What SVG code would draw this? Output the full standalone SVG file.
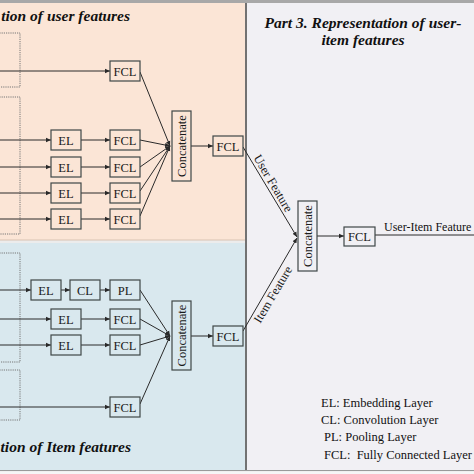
<svg xmlns="http://www.w3.org/2000/svg" width="474" height="474" viewBox="0 0 474 474">
<defs>
<marker id="ah" markerWidth="6" markerHeight="6" refX="5" refY="3" orient="auto" markerUnits="userSpaceOnUse">
<path d="M0,0.8 L5,3 L0,5.2 Z" fill="#2a2a2a"/>
</marker>
<style>
.box{stroke:#3f4747;stroke-width:1.2}
.u{fill:#fbe5d6}
.i{fill:#d9e8ee}
.r{fill:#f1f0f4}
.lbl{font-family:"Liberation Serif","Times New Roman",serif;font-size:12.5px;fill:#1a1a1a;text-anchor:middle}
.ttl{font-family:"Liberation Serif","Times New Roman",serif;font-size:15.5px;font-weight:bold;font-style:italic;fill:#111}
.leg{font-family:"Liberation Serif","Times New Roman",serif;font-size:12.5px;fill:#111}
.ln{stroke:#2a2a2a;stroke-width:1;fill:none}
.arr{stroke:#2a2a2a;stroke-width:1;fill:none;marker-end:url(#ah)}
.dot{stroke:#777;stroke-width:1;fill:none;stroke-dasharray:1.2 1}
</style>
</defs>
<rect x="0" y="0" width="474" height="474" fill="#ececec"/>
<rect x="0" y="0" width="474" height="3" fill="#a8a8a8"/>
<rect x="0" y="3" width="245" height="237" fill="#fbe5d6"/>
<line x1="0" y1="240" x2="245" y2="240" stroke="#d8c2b2" stroke-width="1"/>
<rect x="0" y="243" width="245" height="227" fill="#d9e8ee"/>
<rect x="247" y="3" width="227" height="467" fill="#f1f0f4"/>
<line x1="246" y1="3" x2="246" y2="471" stroke="#4a4a4a" stroke-width="1.5"/>
<rect x="0" y="470" width="474" height="1.2" fill="#9a9a9a"/>
<rect x="0" y="471.2" width="474" height="3" fill="#f6f6f6"/>

<g id="titles">
<text class="ttl" x="130" y="21" text-anchor="end">tion of user features</text>
<text class="ttl" x="131" y="452" text-anchor="end">tion of Item features</text>
<text class="ttl" x="363" y="28" text-anchor="middle">Part 3. Representation of user-</text>
<text class="ttl" x="363" y="45" text-anchor="middle">item features</text>
</g>

<g id="inputs">
<rect class="dot" x="-5" y="33" width="25" height="54"/>
<rect class="dot" x="-5" y="97" width="25" height="137"/>
<rect class="dot" x="-5" y="253" width="25" height="109"/>
<rect class="dot" x="-5" y="370" width="25" height="50"/>
</g>

<g id="connectors">
<line class="arr" x1="0" y1="71" x2="110" y2="71"/>
<line class="arr" x1="0" y1="140" x2="51" y2="140"/>
<line class="arr" x1="0" y1="167" x2="51" y2="167"/>
<line class="arr" x1="0" y1="193" x2="51" y2="193"/>
<line class="arr" x1="0" y1="219" x2="51" y2="219"/>
<line class="arr" x1="81" y1="140" x2="110" y2="140"/>
<line class="arr" x1="81" y1="167" x2="110" y2="167"/>
<line class="arr" x1="81" y1="193" x2="110" y2="193"/>
<line class="arr" x1="81" y1="219" x2="110" y2="219"/>
<line class="arr" x1="140" y1="72" x2="170" y2="146"/>
<line class="arr" x1="140" y1="140" x2="170" y2="146"/>
<line class="arr" x1="140" y1="167" x2="170" y2="146"/>
<line class="arr" x1="140" y1="191" x2="170" y2="146"/>
<line class="arr" x1="140" y1="216" x2="170" y2="146"/>
<line class="arr" x1="191" y1="146" x2="213" y2="146"/>

<line class="arr" x1="0" y1="290" x2="31" y2="290"/>
<line class="arr" x1="61" y1="290" x2="70" y2="290"/>
<line class="arr" x1="100" y1="290" x2="110" y2="290"/>
<line class="arr" x1="0" y1="319" x2="51" y2="319"/>
<line class="arr" x1="0" y1="345" x2="51" y2="345"/>
<line class="arr" x1="81" y1="319" x2="110" y2="319"/>
<line class="arr" x1="81" y1="345" x2="110" y2="345"/>
<line class="arr" x1="0" y1="407" x2="110" y2="407"/>
<line class="arr" x1="140" y1="290" x2="170" y2="336"/>
<line class="arr" x1="140" y1="319" x2="170" y2="336"/>
<line class="arr" x1="140" y1="345" x2="170" y2="336"/>
<line class="arr" x1="140" y1="404" x2="170" y2="336"/>
<line class="arr" x1="191" y1="336" x2="213" y2="336"/>

<line class="arr" x1="243" y1="147" x2="297" y2="237"/>
<line class="arr" x1="243" y1="331" x2="297" y2="238"/>
<line class="arr" x1="317" y1="236" x2="344" y2="236"/>
<line class="ln" x1="375" y1="235" x2="474" y2="235"/>
<text class="lbl" transform="translate(267,187) rotate(59.3)" x="0" y="-3">User Feature</text>
<text class="lbl" transform="translate(267,291) rotate(-59.3)" x="0" y="11">Item Feature</text>
<text class="leg" x="384" y="231" style="font-size:12px">User-Item Feature</text>
</g>

<g id="u_fcl1"><rect class="box u" x="110" y="61" width="30" height="20"/><text class="lbl" x="125" y="75.5">FCL</text></g>
<g id="u_el2"><rect class="box u" x="51" y="130" width="30" height="20"/><text class="lbl" x="66" y="144.5">EL</text></g>
<g id="u_el3"><rect class="box u" x="51" y="157" width="30" height="20"/><text class="lbl" x="66" y="171.5">EL</text></g>
<g id="u_el4"><rect class="box u" x="51" y="183" width="30" height="20"/><text class="lbl" x="66" y="197.5">EL</text></g>
<g id="u_el5"><rect class="box u" x="51" y="209" width="30" height="20"/><text class="lbl" x="66" y="223.5">EL</text></g>
<g id="u_fcl2"><rect class="box u" x="110" y="130" width="30" height="20"/><text class="lbl" x="125" y="144.5">FCL</text></g>
<g id="u_fcl3"><rect class="box u" x="110" y="157" width="30" height="20"/><text class="lbl" x="125" y="171.5">FCL</text></g>
<g id="u_fcl4"><rect class="box u" x="110" y="183" width="30" height="20"/><text class="lbl" x="125" y="197.5">FCL</text></g>
<g id="u_fcl5"><rect class="box u" x="110" y="209" width="30" height="20"/><text class="lbl" x="125" y="223.5">FCL</text></g>
<g id="u_concat"><rect class="box u" x="172" y="111" width="19" height="70"/><text class="lbl" transform="translate(185.5,146) rotate(-90)">Concatenate</text></g>
<g id="u_fcl_out"><rect class="box u" x="213" y="136" width="30" height="20"/><text class="lbl" x="228" y="150.5">FCL</text></g>

<g id="i_el1"><rect class="box i" x="31" y="280" width="30" height="20"/><text class="lbl" x="46" y="294.5">EL</text></g>
<g id="i_cl"><rect class="box i" x="70" y="280" width="30" height="20"/><text class="lbl" x="85" y="294.5">CL</text></g>
<g id="i_pl"><rect class="box i" x="110" y="280" width="30" height="20"/><text class="lbl" x="125" y="294.5">PL</text></g>
<g id="i_el2"><rect class="box i" x="51" y="309" width="30" height="20"/><text class="lbl" x="66" y="323.5">EL</text></g>
<g id="i_el3"><rect class="box i" x="51" y="335" width="30" height="20"/><text class="lbl" x="66" y="349.5">EL</text></g>
<g id="i_fcl2"><rect class="box i" x="110" y="309" width="30" height="20"/><text class="lbl" x="125" y="323.5">FCL</text></g>
<g id="i_fcl3"><rect class="box i" x="110" y="335" width="30" height="20"/><text class="lbl" x="125" y="349.5">FCL</text></g>
<g id="i_fcl4"><rect class="box i" x="110" y="397" width="30" height="20"/><text class="lbl" x="125" y="411.5">FCL</text></g>
<g id="i_concat"><rect class="box i" x="172" y="301" width="19" height="69"/><text class="lbl" transform="translate(185.5,335.5) rotate(-90)">Concatenate</text></g>
<g id="i_fcl_out"><rect class="box i" x="213" y="326" width="30" height="20"/><text class="lbl" x="228" y="340.5">FCL</text></g>

<g id="ui_concat"><rect class="box r" x="298" y="201" width="19" height="70"/><text class="lbl" transform="translate(311.5,236) rotate(-90)">Concatenate</text></g>
<g id="ui_fcl"><rect class="box r" x="344" y="227" width="31" height="19"/><text class="lbl" x="359.5" y="241">FCL</text></g>

<g id="legend">
<text class="leg" x="321" y="407">EL: Embedding Layer</text>
<text class="leg" x="321" y="424">CL: Convolution Layer</text>
<text class="leg" x="324" y="441">PL: Pooling Layer</text>
<text class="leg" x="324" y="459" xml:space="preserve">FCL:  Fully Connected Layer</text>
</g>
</svg>
